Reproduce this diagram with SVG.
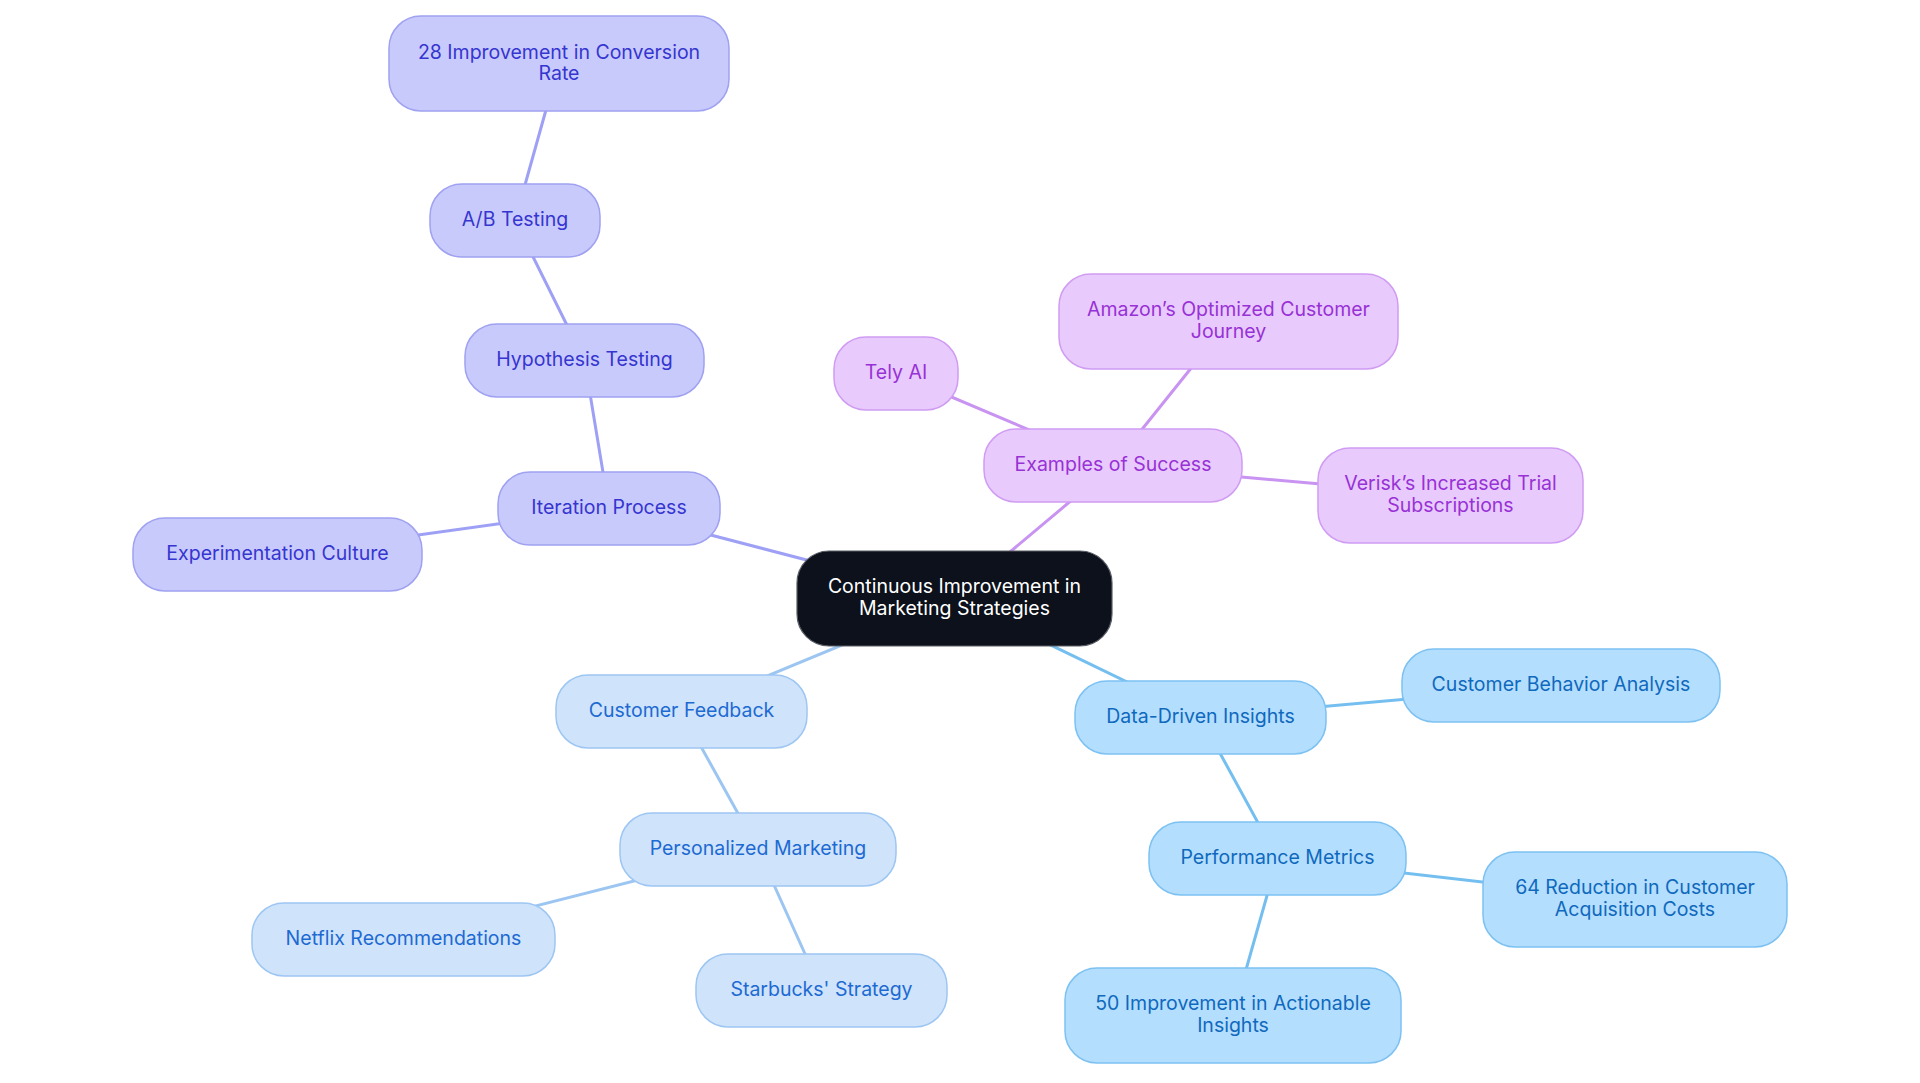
<svg xmlns="http://www.w3.org/2000/svg" width="1920" height="1083" viewBox="0 0 1920 1083">
<style>
  text { font-family: Inter, "Noto Sans", "Liberation Sans", sans-serif; font-size: 19.5px; text-anchor: middle; dominant-baseline: central; }
  .edge { stroke-width: 3; fill: none; stroke-linecap: round; }
  .e-ind { stroke: #9ea0f5; }
  .e-pur { stroke: #c993f1; }
  .e-lb { stroke: #9cc6f1; }
  .e-sky { stroke: #74bff0; }
  .n-root rect { fill: #0c111b; stroke: #5a5e66; stroke-width: 1.2; }
  .n-root text { fill: #ffffff; }
  .n-ind rect { fill: #c9cafc; stroke: #9fa1f1; stroke-width: 1.5; }
  .n-ind text { fill: #3535d0; }
  .n-pur rect { fill: #e8cbfc; stroke: #d09cf3; stroke-width: 1.5; }
  .n-pur text { fill: #9831d6; }
  .n-lb rect { fill: #cfe3fb; stroke: #9dc6f2; stroke-width: 1.5; }
  .n-lb text { fill: #1d6ad2; }
  .n-sky rect { fill: #b4defd; stroke: #7cc1f2; stroke-width: 1.5; }
  .n-sky text { fill: #0f69bd; }
</style>
<rect width="1920" height="1083" fill="#ffffff"/>
<g id="connectors">
  <line class="edge e-ind" x1="954.5" y1="598.5" x2="609" y2="508.5"/>
  <line class="edge e-ind" x1="609" y1="508.5" x2="584.5" y2="360.5"/>
  <line class="edge e-ind" x1="584.5" y1="360.5" x2="515" y2="220.5"/>
  <line class="edge e-ind" x1="515" y1="220.5" x2="559" y2="63.5"/>
  <line class="edge e-ind" x1="609" y1="508.5" x2="277.5" y2="554.5"/>
  <line class="edge e-pur" x1="954.5" y1="598.5" x2="1113" y2="465.5"/>
  <line class="edge e-pur" x1="1113" y1="465.5" x2="896" y2="373.5"/>
  <line class="edge e-pur" x1="1113" y1="465.5" x2="1228.5" y2="321.5"/>
  <line class="edge e-pur" x1="1113" y1="465.5" x2="1450.5" y2="495.5"/>
  <line class="edge e-lb" x1="954.5" y1="598.5" x2="681.5" y2="711.5"/>
  <line class="edge e-lb" x1="681.5" y1="711.5" x2="758" y2="849.5"/>
  <line class="edge e-lb" x1="758" y1="849.5" x2="403.5" y2="939.5"/>
  <line class="edge e-lb" x1="758" y1="849.5" x2="821.5" y2="990.5"/>
  <line class="edge e-sky" x1="954.5" y1="598.5" x2="1200.5" y2="717.5"/>
  <line class="edge e-sky" x1="1200.5" y1="717.5" x2="1561" y2="685.5"/>
  <line class="edge e-sky" x1="1200.5" y1="717.5" x2="1277.5" y2="858.5"/>
  <line class="edge e-sky" x1="1277.5" y1="858.5" x2="1635" y2="899.5"/>
  <line class="edge e-sky" x1="1277.5" y1="858.5" x2="1233" y2="1015.5"/>
</g>
<g id="root" class="n-root">
  <rect x="797" y="551" width="315" height="95" rx="32"/>
  <text x="954.5" y="586">Continuous Improvement in</text>
  <text x="954.5" y="607.5">Marketing Strategies</text>
</g>
<g id="iteration" class="n-ind">
  <rect x="498" y="472" width="222" height="73" rx="32"/>
  <text x="609" y="507">Iteration Process</text>
</g>
<g id="hypothesis" class="n-ind">
  <rect x="465" y="324" width="239" height="73" rx="32"/>
  <text x="584.5" y="359">Hypothesis Testing</text>
</g>
<g id="abtesting" class="n-ind">
  <rect x="430" y="184" width="170" height="73" rx="32"/>
  <text x="515" y="219">A/B Testing</text>
</g>
<g id="conversion" class="n-ind">
  <rect x="389" y="16" width="340" height="95" rx="32"/>
  <text x="559" y="51.5">28 Improvement in Conversion</text>
  <text x="559" y="73">Rate</text>
</g>
<g id="experimentation" class="n-ind">
  <rect x="133" y="518" width="289" height="73" rx="32"/>
  <text x="277.5" y="553">Experimentation Culture</text>
</g>
<g id="examples" class="n-pur">
  <rect x="984" y="429" width="258" height="73" rx="32"/>
  <text x="1113" y="464">Examples of Success</text>
</g>
<g id="tely" class="n-pur">
  <rect x="834" y="337" width="124" height="73" rx="32"/>
  <text x="896" y="372">Tely AI</text>
</g>
<g id="amazon" class="n-pur">
  <rect x="1059" y="274" width="339" height="95" rx="32"/>
  <text x="1228.5" y="309">Amazon’s Optimized Customer</text>
  <text x="1228.5" y="330.5">Journey</text>
</g>
<g id="verisk" class="n-pur">
  <rect x="1318" y="448" width="265" height="95" rx="32"/>
  <text x="1450.5" y="483">Verisk’s Increased Trial</text>
  <text x="1450.5" y="504.5">Subscriptions</text>
</g>
<g id="feedback" class="n-lb">
  <rect x="556" y="675" width="251" height="73" rx="32"/>
  <text x="681.5" y="710">Customer Feedback</text>
</g>
<g id="personalized" class="n-lb">
  <rect x="620" y="813" width="276" height="73" rx="32"/>
  <text x="758" y="848">Personalized Marketing</text>
</g>
<g id="netflix" class="n-lb">
  <rect x="252" y="903" width="303" height="73" rx="32"/>
  <text x="403.5" y="938">Netflix Recommendations</text>
</g>
<g id="starbucks" class="n-lb">
  <rect x="696" y="954" width="251" height="73" rx="32"/>
  <text x="821.5" y="989">Starbucks' Strategy</text>
</g>
<g id="datadriven" class="n-sky">
  <rect x="1075" y="681" width="251" height="73" rx="32"/>
  <text x="1200.5" y="716">Data-Driven Insights</text>
</g>
<g id="behavior" class="n-sky">
  <rect x="1402" y="649" width="318" height="73" rx="32"/>
  <text x="1561" y="684">Customer Behavior Analysis</text>
</g>
<g id="performance" class="n-sky">
  <rect x="1149" y="822" width="257" height="73" rx="32"/>
  <text x="1277.5" y="857">Performance Metrics</text>
</g>
<g id="reduction" class="n-sky">
  <rect x="1483" y="852" width="304" height="95" rx="32"/>
  <text x="1635" y="887">64 Reduction in Customer</text>
  <text x="1635" y="908.5">Acquisition Costs</text>
</g>
<g id="actionable" class="n-sky">
  <rect x="1065" y="968" width="336" height="95" rx="32"/>
  <text x="1233" y="1003">50 Improvement in Actionable</text>
  <text x="1233" y="1024.5">Insights</text>
</g>
</svg>
